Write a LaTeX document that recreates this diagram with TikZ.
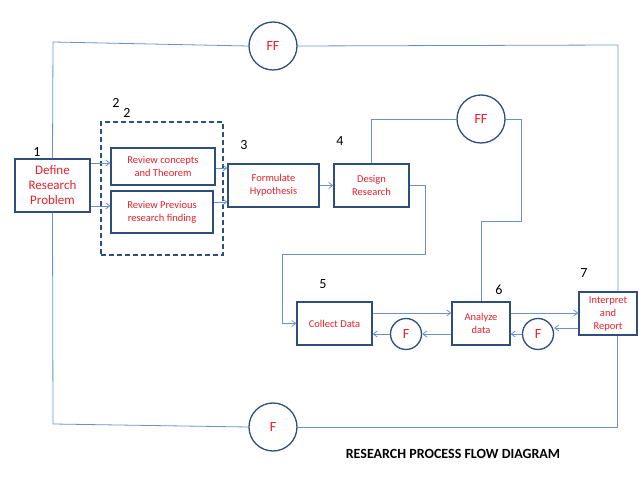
\documentclass[tikz,border=0pt]{standalone}
\usepackage{fontspec}
\setmainfont{Carlito}
\usetikzlibrary{arrows.meta}
\definecolor{bord}{HTML}{2E4E7E}
\definecolor{ln}{HTML}{6A92C8}
\definecolor{txt}{HTML}{E8202A}
\begin{document}
\begin{tikzpicture}[x=1pt,y=-1pt,
  box/.style={draw=bord,line width=1.3pt,text=txt,align=center,inner sep=0pt,font=\fontsize{10.5}{13}\selectfont},
  circ/.style={draw=bord,line width=1.3pt,circle,text=txt,inner sep=0pt,font=\fontsize{14}{16}\selectfont},
  lnk/.style={draw=ln,line width=0.8pt},
  arr/.style={lnk,-{Straight Barb[length=4pt,width=6pt]}},
  num/.style={font=\fontsize{14}{16}\selectfont}]
\useasboundingbox (0,0) rectangle (638,478);
\node[box,minimum width=75,minimum height=53,font=\fontsize{13}{15}\selectfont] (def) at (52.5,185.5) {Define\\Research\\Problem};
\node[draw=bord,line width=1.3pt,dash pattern=on 5pt off 3pt,minimum width=122,minimum height=133,inner sep=0pt] (grp) at (162,188.5) {};
\node[box,minimum width=104,minimum height=37] (rc) at (163,166.5) {Review concepts\\and Theorem};
\node[box,minimum width=102,minimum height=42] (rp) at (162,212) {Review Previous\\research finding};
\node[box,minimum width=91,minimum height=43] (form) at (273.5,185.5) {Formulate\\Hypothesis};
\node[box,minimum width=75,minimum height=43] (des) at (371.5,185.5) {Design\\Research};
\node[box,minimum width=75,minimum height=43] (col) at (334.5,323.5) {Collect Data};
\node[box,minimum width=58,minimum height=43] (ana) at (481,323.5) {Analyze\\data};
\node[box,minimum width=58,minimum height=43] (int) at (608,313.5) {Interpret\\and\\Report};
\node[circ,minimum size=48] (ff1) at (273,46) {FF};
\node[circ,minimum size=48] (ff2) at (481,119) {FF};
\node[circ,minimum size=48] (fb) at (273,427) {F};
\node[circ,minimum size=31] (f1) at (406,334) {F};
\node[circ,minimum size=31] (f2) at (538,334) {F};
\node[num] (n1) at (37,152) {1};
\node[num] (n2a) at (116,103) {2};
\node[num] (n2b) at (127,113) {2};
\node[num] (n3) at (244,145) {3};
\node[num] (n4) at (340,141) {4};
\node[num] (n5) at (323,284) {5};
\node[num] (n6) at (499,290) {6};
\node[num] (n7) at (584,273) {7};
\node[font=\bfseries\fontsize{14}{16}\selectfont] (title) at (453,454) {RESEARCH PROCESS FLOW DIAGRAM};
% arrows
\draw[arr] (def.east |- 0,163) -- (rc.west |- 0,163);
\draw[arr] (def.east |- 0,206) -- (rp.west |- 0,206);
\draw[arr] (rc.east |- 0,168) -- (form.west |- 0,168);
\draw[arr] (rp.east |- 0,202) -- (form.west |- 0,202);
\draw[arr] (form) -- (des);
\draw[arr] (des.east) -- ++(16,0) |- (282,254) |- (col.west);
\draw[lnk] (des.north) |- (ff2.west);
\draw[lnk] (ff2.east) -| (521,221) -| (ana.north);
\draw[arr] (col.east |- 0,313) -- (ana.west |- 0,313);
\draw[arr] (ana.west |- 0,334) -- (f1.east);
\draw[arr] (f1.west) -- (col.east |- 0,334);
\draw[arr] (ana.east |- 0,313) -- (int.west |- 0,313);
\draw[arr] (int.west |- 0,328) -- (f2.east |- 0,328);
\draw[arr] (f2.west) -- (ana.east |- 0,334);
\draw[lnk] (def.north) -- (53,42) -- (ff1.west);
\draw[lnk] (ff1.east) -- (618,45) -- (int.north -| 618,0);
\draw[lnk] (int.south -| 617,0) -- (617,427) -- (fb.east);
\draw[lnk] (fb.west) -- (53,424) -- (def.south);
\end{tikzpicture}
\end{document}
